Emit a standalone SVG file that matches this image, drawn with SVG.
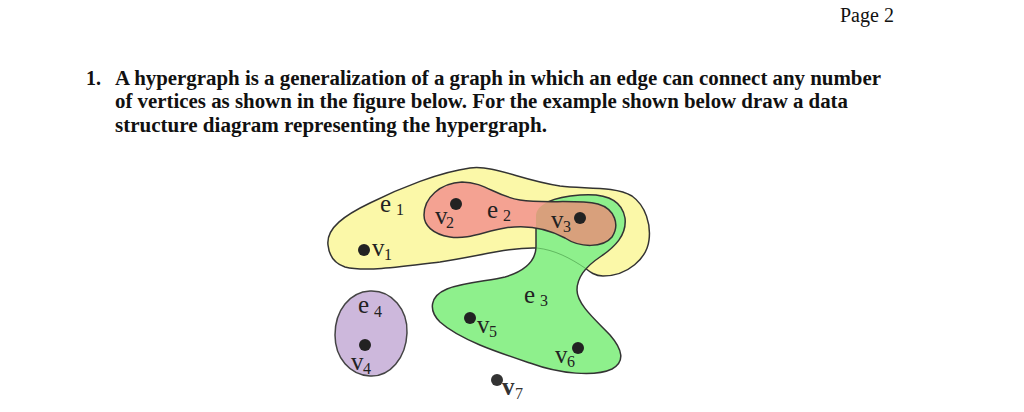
<svg xmlns="http://www.w3.org/2000/svg" width="1024" height="412" viewBox="0 0 1024 412">
<style>
.hd{font-family:"Liberation Serif","Times New Roman",serif;font-weight:bold;font-size:20px;fill:#111}
.pg{font-family:"Liberation Serif","Times New Roman",serif;font-size:20px;fill:#111}
.lb{font-family:"Liberation Serif","Times New Roman",serif;font-size:25px;fill:#222}
.sb{font-family:"Liberation Serif","Times New Roman",serif;font-size:16px;fill:#222}
.edge{stroke:#333;stroke-width:1.5}
.dot{fill:#222}
</style>
<defs>
<path id="pE1" d="M328,245 C326,228 345,215 370,203 C400,188 440,172 470,168 C495,165 520,180 560,186 C585,189 615,186 632,196 C646,206 651,225 649,240 C647,258 628,276 603,276 C595,276 590,272 585,268 C570,258 555,250 537,248 C510,247 480,256 440,262 C400,267 365,272 345,267 C333,263 329,255 328,245 Z"/>
<path id="pE3" d="M536,215 C538,203 555,197 580,195 C606,193 622,200 625,218 C627,235 615,247 600,257 C588,265 577,276 577,290 C577,305 598,322 610,335 C623,350 625,362 612,369 C595,377 560,374 530,363 C500,353 460,340 440,322 C428,310 430,296 447,289 C465,282 490,281 505,277 C525,271 535,262 536,248 Z"/>
<path id="pE2" d="M424,215 C424,198 440,183 462,182 C485,182 495,196 520,200 C545,204 575,199 598,204 C615,209 620,225 612,237 C603,248 580,248 565,238 C550,230 530,224 505,228 C485,231 468,240 450,237 C432,234 424,225 424,215 Z"/>
<clipPath id="cE3"><use href="#pE3"/></clipPath>
</defs>

<text class="pg" x="840" y="22">Page 2</text>
<text class="hd" x="86" y="85">1.</text>
<text class="hd" x="115" y="85" textLength="766" lengthAdjust="spacingAndGlyphs">A hypergraph is a generalization of a graph in which an edge can connect any number</text>
<text class="hd" x="115" y="108" textLength="733" lengthAdjust="spacingAndGlyphs">of vertices as shown in the figure below. For the example shown below draw a data</text>
<text class="hd" x="115" y="132" textLength="432" lengthAdjust="spacingAndGlyphs">structure diagram representing the hypergraph.</text>

<g id="connectors"></g>

<g id="e1">
<use href="#pE1" fill="#fbf8a8" class="edge"/>
<text class="lb" x="380" y="212">e</text><text class="sb" x="396" y="215">1</text>
</g>
<g id="e3">
<use href="#pE3" fill="#8ef08c" class="edge"/>
<use href="#pE1" fill="none" stroke="#3d8a3d" stroke-width="1" stroke-opacity="0.55" clip-path="url(#cE3)"/>
<text class="lb" x="524" y="303">e</text><text class="sb" x="540" y="306">3</text>
</g>
<g id="e2">
<use href="#pE2" fill="#f4a292"/>
<use href="#pE2" fill="#d8a07c" clip-path="url(#cE3)"/>
<use href="#pE2" fill="none" class="edge"/>
<text class="lb" x="487" y="218">e</text><text class="sb" x="503" y="221">2</text>
</g>
<g id="e4">
<path d="M370,291 C392,290 408,310 407,333 C406,358 390,377 370,376 C350,375 335,358 335,335 C335,310 350,292 370,291 Z" fill="#cdb8dc" stroke="#444" stroke-width="1.5"/>
<text class="lb" x="358" y="313">e</text><text class="sb" x="374" y="317">4</text>
</g>

<g id="v1"><circle class="dot" cx="364" cy="250" r="6"/><text class="lb" x="372" y="256">v</text><text class="sb" x="384" y="260">1</text></g>
<g id="v2"><circle class="dot" cx="456" cy="204" r="6"/><text class="lb" x="435" y="224">v</text><text class="sb" x="446" y="228">2</text></g>
<g id="v3"><circle class="dot" cx="580" cy="218" r="6"/><text class="lb" x="551" y="228">v</text><text class="sb" x="563" y="232">3</text></g>
<g id="v4"><circle class="dot" cx="365" cy="345" r="6"/><text class="lb" x="351" y="370">v</text><text class="sb" x="363" y="374">4</text></g>
<g id="v5"><circle class="dot" cx="470" cy="318" r="6"/><text class="lb" x="477" y="333">v</text><text class="sb" x="489" y="337">5</text></g>
<g id="v6"><circle class="dot" cx="578" cy="348" r="6"/><text class="lb" x="555" y="363">v</text><text class="sb" x="567" y="367">6</text></g>
<g id="v7"><circle cx="497" cy="380" r="6" fill="#333"/><text class="lb" x="502" y="395" font-weight="bold" style="fill:#333">v</text><text class="sb" x="515" y="399" style="fill:#333">7</text></g>
</svg>
